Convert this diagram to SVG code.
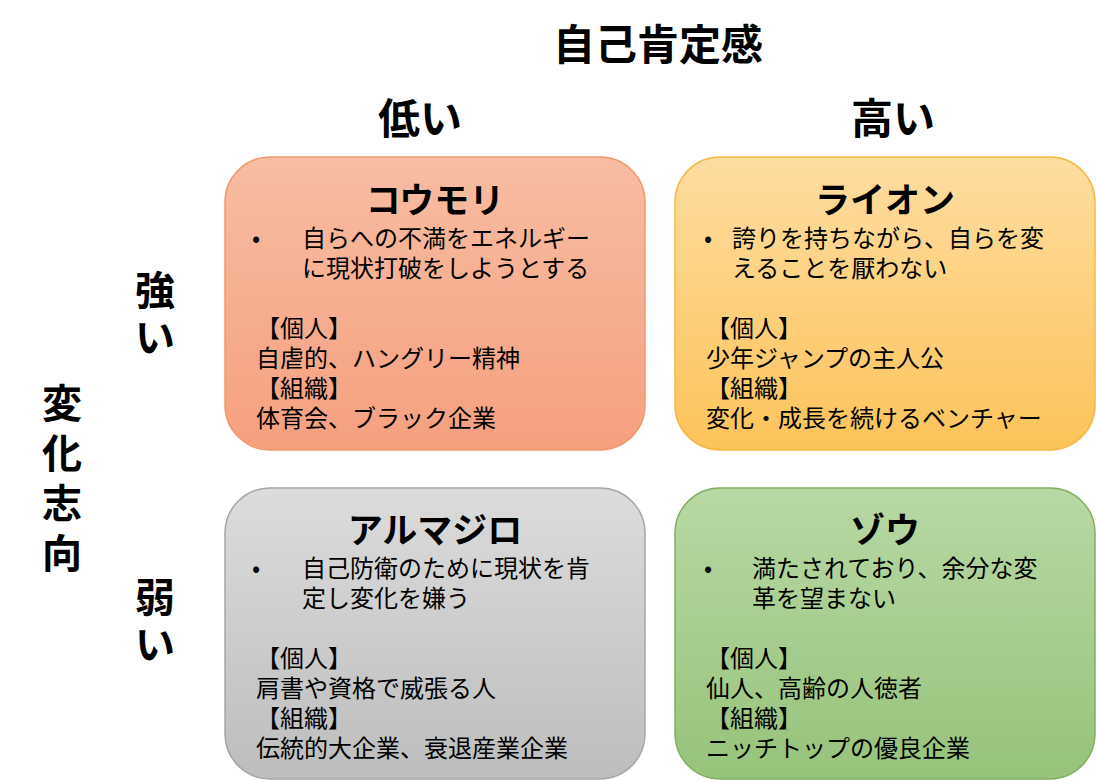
<svg xmlns="http://www.w3.org/2000/svg" width="1096" height="780" viewBox="0 0 1096 780">
<style>
text{font-family:"Noto Sans CJK JP",sans-serif;fill:#000}
.h{font-weight:bold;font-size:42px}
.v{font-weight:bold;font-size:40px}
.t{font-weight:bold;font-size:35px;text-anchor:middle}
.b{font-size:24px}
</style>
<defs>
<linearGradient id="go" x1="0" y1="0" x2="0" y2="1"><stop offset="0" stop-color="#f8bda2"/><stop offset="1" stop-color="#f5a07f"/></linearGradient>
<linearGradient id="gy" x1="0" y1="0" x2="0" y2="1"><stop offset="0" stop-color="#fedda0"/><stop offset="1" stop-color="#fcc35a"/></linearGradient>
<linearGradient id="gg" x1="0" y1="0" x2="0" y2="1"><stop offset="0" stop-color="#dcdcdc"/><stop offset="1" stop-color="#bdbdbd"/></linearGradient>
<linearGradient id="gn" x1="0" y1="0" x2="0" y2="1"><stop offset="0" stop-color="#b8d8a4"/><stop offset="1" stop-color="#97c37a"/></linearGradient>
</defs>
<text class="h" x="658" y="60" text-anchor="middle" font-size="47">自己肯定感</text>
<text class="h" x="420" y="134" text-anchor="middle" font-size="46">低い</text>
<text class="h" x="893" y="134" text-anchor="middle" font-size="46">高い</text>
<text class="v" x="155" y="305" text-anchor="middle">強</text>
<text class="v" x="155" y="352" text-anchor="middle">い</text>
<text class="v" x="155" y="612" text-anchor="middle">弱</text>
<text class="v" x="155" y="659" text-anchor="middle">い</text>
<text class="v" x="62" y="418" text-anchor="middle">変</text>
<text class="v" x="62" y="468" text-anchor="middle">化</text>
<text class="v" x="62" y="518" text-anchor="middle">志</text>
<text class="v" x="62" y="568" text-anchor="middle">向</text>
<g id="bat">
<rect x="225" y="157" width="420" height="293" rx="45" fill="url(#go)" stroke="#ee9a6e" stroke-width="1.5"/>
<text class="t" x="435" y="213">コウモリ</text>
<text class="b" x="252" y="247">•</text>
<text class="b" x="302" y="247">自らへの不満をエネルギー</text>
<text class="b" x="302" y="277">に現状打破をしようとする</text>
<text class="b" x="256" y="337">【個人】</text>
<text class="b" x="256" y="367">自虐的、ハングリー精神</text>
<text class="b" x="256" y="397">【組織】</text>
<text class="b" x="256" y="427">体育会、ブラック企業</text>
</g>
<g id="lion">
<rect x="675" y="157" width="420" height="293" rx="45" fill="url(#gy)" stroke="#f6b840" stroke-width="1.5"/>
<text class="t" x="885" y="213">ライオン</text>
<text class="b" x="704" y="247">•</text>
<text class="b" x="732" y="247">誇りを持ちながら、自らを変</text>
<text class="b" x="732" y="277">えることを厭わない</text>
<text class="b" x="706" y="337">【個人】</text>
<text class="b" x="706" y="367">少年ジャンプの主人公</text>
<text class="b" x="706" y="397">【組織】</text>
<text class="b" x="706" y="427">変化・成長を続けるベンチャー</text>
</g>
<g id="armadillo">
<rect x="225" y="488" width="420" height="291" rx="45" fill="url(#gg)" stroke="#a6a6a6" stroke-width="1.5"/>
<text class="t" x="435" y="543">アルマジロ</text>
<text class="b" x="252" y="577">•</text>
<text class="b" x="302" y="577">自己防衛のために現状を肯</text>
<text class="b" x="302" y="607">定し変化を嫌う</text>
<text class="b" x="256" y="667">【個人】</text>
<text class="b" x="256" y="697">肩書や資格で威張る人</text>
<text class="b" x="256" y="727">【組織】</text>
<text class="b" x="256" y="757">伝統的大企業、衰退産業企業</text>
</g>
<g id="elephant">
<rect x="675" y="488" width="420" height="291" rx="45" fill="url(#gn)" stroke="#80b060" stroke-width="1.5"/>
<text class="t" x="885" y="543">ゾウ</text>
<text class="b" x="704" y="577">•</text>
<text class="b" x="752" y="577">満たされており、余分な変</text>
<text class="b" x="752" y="607">革を望まない</text>
<text class="b" x="706" y="667">【個人】</text>
<text class="b" x="706" y="697">仙人、高齢の人徳者</text>
<text class="b" x="706" y="727">【組織】</text>
<text class="b" x="706" y="757">ニッチトップの優良企業</text>
</g>
<g id="connectors"/>
</svg>
